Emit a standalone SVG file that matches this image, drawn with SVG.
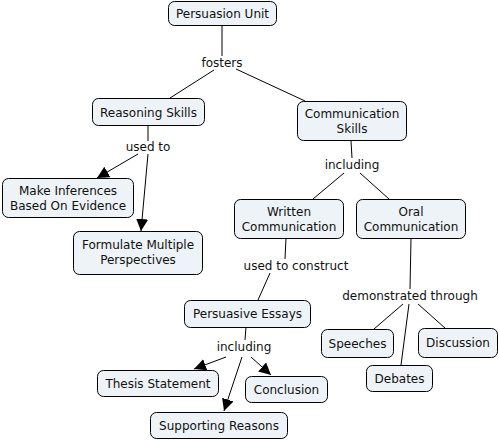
<svg xmlns="http://www.w3.org/2000/svg" width="499" height="441" viewBox="0 0 499 441">
<style>
.n rect{fill:#edf3f6;stroke:#000;stroke-width:1}
text{font-family:"DejaVu Sans",Verdana,sans-serif;font-size:12px;fill:#111;text-anchor:middle}
.c line{stroke:#000;stroke-width:1}
.c line.a{marker-end:url(#ah)}
</style>
<defs>
<marker id="ah" viewBox="0 0 10 10" refX="10" refY="5" markerWidth="12" markerHeight="12" markerUnits="userSpaceOnUse" orient="auto">
<path d="M0,0 L10,5 L0,10 z" fill="#000"/>
</marker>
</defs>
<rect width="499" height="441" fill="#fff"/>
<g class="c" id="connectors">
<line x1="222" y1="25" x2="222" y2="56"/>
<line x1="214" y1="70" x2="170" y2="98"/>
<line x1="236" y1="69" x2="305" y2="101"/>
<line x1="148" y1="126" x2="148" y2="141"/>
<line class="a" x1="138" y1="154" x2="97" y2="178"/>
<line class="a" x1="148" y1="154" x2="141" y2="231"/>
<line x1="351" y1="141" x2="352" y2="158"/>
<line x1="344" y1="173" x2="313" y2="199"/>
<line x1="360" y1="173" x2="389" y2="199"/>
<line x1="286" y1="238" x2="285" y2="259"/>
<line x1="270" y1="273" x2="258" y2="300"/>
<line x1="411" y1="238" x2="410" y2="289"/>
<line x1="403" y1="304" x2="374" y2="329"/>
<line x1="409" y1="304" x2="401" y2="365"/>
<line x1="418" y1="304" x2="445" y2="328"/>
<line x1="246" y1="327" x2="245" y2="340"/>
<line class="a" x1="226" y1="357" x2="194" y2="369"/>
<line class="a" x1="242" y1="357" x2="224" y2="411"/>
<line class="a" x1="251" y1="357" x2="271" y2="375"/>
</g>
<g id="labels">
<text x="222" y="67">fosters</text>
<text x="148" y="151">used to</text>
<text x="352" y="169">including</text>
<text x="296" y="270">used to construct</text>
<text x="410" y="300">demonstrated through</text>
<text x="244" y="351">including</text>
</g>
<g class="n" id="persuasion-unit"><rect x="168.5" y="1.5" width="108" height="24" rx="6"/><text x="222.5" y="18">Persuasion Unit</text></g>
<g class="n" id="reasoning-skills"><rect x="92.5" y="98.5" width="112" height="27" rx="6"/><text x="148.5" y="116.5">Reasoning Skills</text></g>
<g class="n" id="make-inferences"><rect x="2.5" y="178.5" width="131" height="39" rx="6"/><text x="68" y="194.5">Make Inferences</text><text x="68" y="209.5">Based On Evidence</text></g>
<g class="n" id="formulate"><rect x="73.5" y="231.5" width="129" height="43" rx="6"/><text x="138" y="249">Formulate Multiple</text><text x="138" y="264">Perspectives</text></g>
<g class="n" id="communication-skills"><rect x="297.5" y="101.5" width="109" height="39" rx="6"/><text x="352" y="117.5">Communication</text><text x="352" y="132.5">Skills</text></g>
<g class="n" id="written"><rect x="234.5" y="199.5" width="109" height="39" rx="6"/><text x="289" y="215.5">Written</text><text x="289" y="230.5">Communication</text></g>
<g class="n" id="oral"><rect x="356.5" y="199.5" width="109" height="39" rx="6"/><text x="411" y="215.5">Oral</text><text x="411" y="230.5">Communication</text></g>
<g class="n" id="persuasive-essays"><rect x="184.5" y="300.5" width="126" height="27" rx="6"/><text x="247.5" y="318">Persuasive Essays</text></g>
<g class="n" id="thesis"><rect x="97.5" y="370.5" width="121" height="26" rx="6"/><text x="158" y="387.5">Thesis Statement</text></g>
<g class="n" id="conclusion"><rect x="245.5" y="376.5" width="82" height="26" rx="6"/><text x="286.5" y="393.5">Conclusion</text></g>
<g class="n" id="supporting"><rect x="150.5" y="412.5" width="137" height="26" rx="6"/><text x="219" y="429.5">Supporting Reasons</text></g>
<g class="n" id="speeches"><rect x="321.5" y="329.5" width="72" height="28" rx="6"/><text x="357.5" y="347.5">Speeches</text></g>
<g class="n" id="discussion"><rect x="418.5" y="328.5" width="79" height="29" rx="6"/><text x="458" y="347">Discussion</text></g>
<g class="n" id="debates"><rect x="366.5" y="365.5" width="66" height="26" rx="6"/><text x="399.5" y="382.5">Debates</text></g>
</svg>
